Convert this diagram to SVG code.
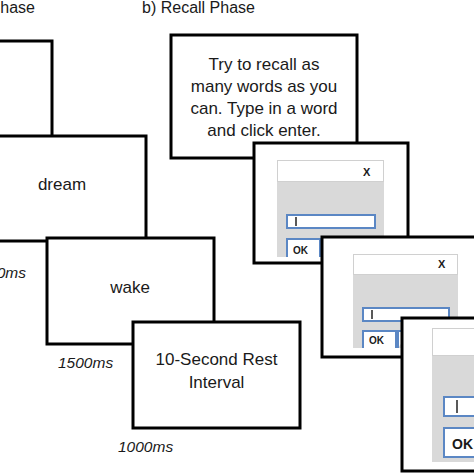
<svg xmlns="http://www.w3.org/2000/svg" width="474" height="474" viewBox="0 0 474 474">
<style>
text{font-family:"Liberation Sans",Arial,sans-serif;fill:#1a1a1a}
.box{fill:#fff;stroke:#000;stroke-width:3}
.t{font-size:17px;text-anchor:middle}
.lbl{font-size:15.5px;font-style:italic}
.hd{font-size:16px}
.bar{fill:#fff;stroke:#d0d0d0;stroke-width:1}
.panel{fill:#d9d9d9}
.inp{fill:#fff;stroke:#5b87c4;stroke-width:2}
.btn{fill:#fff;stroke:#5b87c4;stroke-width:2}
.x{font-size:11px;font-weight:bold}
.ok{font-size:10px;font-weight:bold}
.cur{stroke:#222;stroke-width:1.5}
</style>
<rect width="474" height="474" fill="#fff"/>
<text class="hd" x="35" y="13" text-anchor="end">hase</text>
<text class="hd" x="142" y="13">b) Recall Phase</text>
<g id="enc1"><rect class="box" x="-20" y="41" width="72" height="110"/></g>
<g id="enc2"><rect class="box" x="-20" y="136" width="166" height="105"/><text class="t" x="62" y="190">dream</text></g>
<text class="lbl" x="26" y="278" text-anchor="end">0ms</text>
<g id="enc3"><rect class="box" x="47" y="238" width="167" height="106"/><text class="t" x="130" y="293">wake</text></g>
<text class="lbl" x="58" y="368">1500ms</text>
<g id="enc4"><rect class="box" x="133" y="322" width="167" height="106"/><text class="t" x="216.5" y="365">10-Second Rest</text><text class="t" x="216.5" y="388">Interval</text></g>
<text class="lbl" x="118" y="452">1000ms</text>
<g id="instr"><rect class="box" x="171" y="35" width="186" height="123"/>
<text class="t" x="264" y="70">Try to recall as</text>
<text class="t" x="264" y="92">many words as you</text>
<text class="t" x="264" y="114">can. Type in a word</text>
<text class="t" x="264" y="136">and click enter.</text></g>
<g id="dialog1"><rect class="box" x="254" y="143" width="154" height="120"/>
<rect class="panel" x="277" y="181" width="107" height="76"/>
<rect class="bar" x="277.5" y="160.5" width="106" height="21"/>
<text class="x" x="363" y="176">X</text>
<rect class="inp" x="287" y="215" width="88" height="13"/>
<line class="cur" x1="296" y1="217" x2="296" y2="226"/>
<path class="btn" d="M287 257V239H320V257"/><rect x="288" y="240" width="31" height="17" fill="#fff"/>
<text class="ok" x="293" y="254">OK</text>
<path class="btn" d="M323 257V239H340"/></g>
<g id="dialog2"><rect class="box" x="322" y="237" width="170" height="120"/>
<rect class="panel" x="353" y="274" width="105" height="74"/>
<rect class="bar" x="353.5" y="254.5" width="104" height="20"/>
<text class="x" x="438" y="268">X</text>
<rect class="inp" x="363" y="308" width="86" height="13"/>
<line class="cur" x1="372" y1="310" x2="372" y2="319"/>
<path class="btn" d="M363 348V331H396V348"/><rect x="364" y="332" width="31" height="16" fill="#fff"/>
<text class="ok" x="369" y="344">OK</text>
<path class="btn" d="M398 348V331H410"/></g>
<g id="dialog3"><rect class="box" x="402" y="318" width="100" height="153"/>
<rect class="panel" x="432" y="355" width="60" height="107"/>
<rect class="bar" x="432.5" y="328.5" width="60" height="27"/>
<rect class="inp" x="444" y="397" width="50" height="19"/>
<line class="cur" x1="457" y1="400" x2="457" y2="413"/>
<rect class="btn" x="444" y="428" width="50" height="29"/>
<text class="ok" x="452" y="449" style="font-size:14px">OK</text></g>
</svg>
